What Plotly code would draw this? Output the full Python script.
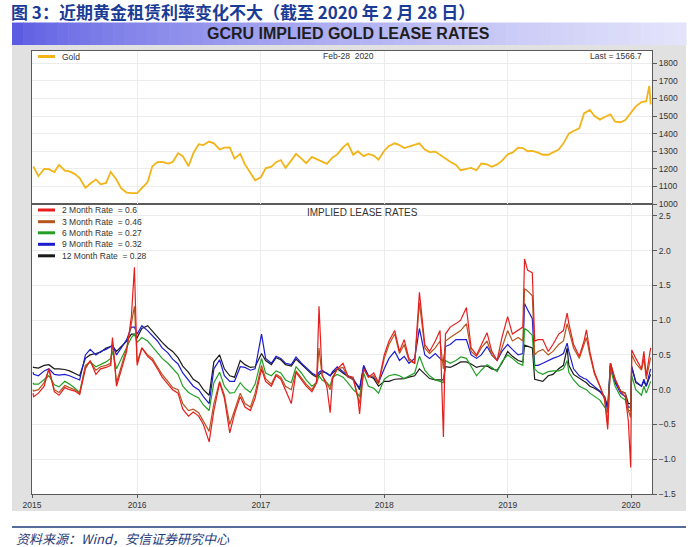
import plotly.graph_objects as go
import pandas as pd

# ---------------- data ----------------
TITLE = "图 3：近期黄金租赁利率变化不大（截至 2020 年 2 月 28 日）"
HEADER = "GCRU IMPLIED GOLD LEASE RATES"
SOURCE = "资料来源：Wind，安信证券研究中心"

gold_grid = [d.strftime('%Y-%m-%d') for d in pd.date_range('2015-03-01', '2020-02-15', freq='SMS')]
GOLD_DATES = ['2015-02-27'] + gold_grid + ['2020-02-24', '2020-02-28']
GOLD_PRICE = [1212,
    1210, 1158, 1200, 1198, 1182, 1222, 1190, 1185, 1170, 1148, 1092, 1115, 1140, 1112, 1120, 1182, 1138, 1088, 1065, 1062,
    1062, 1090, 1125, 1215, 1238, 1240, 1230, 1238, 1288, 1272, 1215, 1288, 1340, 1335, 1355, 1345, 1310, 1320, 1322, 1258, 1285, 1225, 1178, 1135,
    1152, 1203, 1212, 1238, 1250, 1205, 1248, 1285, 1258, 1232, 1268, 1255, 1238, 1228, 1265, 1282, 1322, 1345, 1280, 1300, 1272, 1285, 1275, 1252,
    1303, 1330, 1345, 1335, 1318, 1325, 1335, 1345, 1310, 1295, 1298, 1280, 1255, 1240, 1222, 1192, 1200, 1205, 1192, 1230, 1225, 1212, 1225, 1245,
    1282, 1292, 1320, 1318, 1300, 1302, 1292, 1280, 1280, 1295, 1310, 1345, 1400, 1415, 1430, 1515, 1535, 1500, 1480, 1495, 1510, 1468, 1465, 1478,
    1520, 1555, 1580, 1585,
    1672, 1566.7]
GOLD_LAST = 1566.7
AS_OF = "Feb-28  2020"

RATE_DATES = [
    '2015-02-27', '2015-03-01', '2015-03-15', '2015-04-01', '2015-04-15', '2015-05-01', '2015-05-15', '2015-06-01',
    '2015-06-15', '2015-07-01', '2015-07-15', '2015-08-01', '2015-08-15', '2015-09-01', '2015-09-15', '2015-10-01',
    '2015-10-15', '2015-10-20', '2015-11-01', '2015-11-15', '2015-12-01', '2015-12-15', '2015-12-24',
    '2016-01-01', '2016-01-15', '2016-02-01', '2016-02-15', '2016-03-01', '2016-03-15', '2016-04-01', '2016-04-15',
    '2016-05-01', '2016-05-15', '2016-06-01', '2016-06-15', '2016-07-01', '2016-07-15', '2016-08-01', '2016-08-15',
    '2016-09-01', '2016-09-15', '2016-10-01', '2016-10-15', '2016-11-01', '2016-11-15', '2016-12-01', '2016-12-15',
    '2017-01-03', '2017-01-15', '2017-02-01', '2017-02-15', '2017-03-01', '2017-03-15', '2017-04-01', '2017-04-15',
    '2017-05-01', '2017-05-15', '2017-06-01', '2017-06-15', '2017-06-22', '2017-07-01', '2017-07-15', '2017-07-25',
    '2017-08-01', '2017-08-15', '2017-09-01', '2017-09-15', '2017-10-01', '2017-10-15', '2017-10-20', '2017-11-01',
    '2017-11-15', '2017-12-01', '2017-12-15',
    '2018-01-01', '2018-01-15', '2018-02-01', '2018-02-15', '2018-03-01', '2018-03-15', '2018-04-01', '2018-04-15',
    '2018-05-01', '2018-05-15', '2018-06-01', '2018-06-15', '2018-06-25', '2018-07-01', '2018-07-15', '2018-08-01',
    '2018-08-15', '2018-09-01', '2018-09-15', '2018-10-01', '2018-10-15', '2018-11-01', '2018-11-15', '2018-12-01',
    '2018-12-15',
    '2019-01-01', '2019-01-15', '2019-02-01', '2019-02-15', '2019-02-20', '2019-03-01', '2019-03-15', '2019-03-22',
    '2019-04-01', '2019-04-15', '2019-05-01', '2019-05-15', '2019-06-01', '2019-06-15', '2019-06-26', '2019-07-01',
    '2019-07-15', '2019-08-01', '2019-08-15', '2019-08-22', '2019-09-01', '2019-09-15', '2019-10-01', '2019-10-15',
    '2019-10-24', '2019-11-01', '2019-11-15', '2019-12-01', '2019-12-15', '2019-12-24', '2019-12-31',
    '2020-01-03', '2020-01-15', '2020-02-01', '2020-02-08', '2020-02-15', '2020-02-28']

RATE_2M = [
    -0.05, -0.10, -0.05, 0.05, 0.30, -0.03, -0.08, 0.03, 0.00, -0.02, -0.07, 0.30, 0.42, 0.22, 0.30, 0.32, 0.35, 0.75, 0.05, 0.30, 0.55, 1.05, 1.76,
    0.35, 0.60, 0.48, 0.42, 0.30, 0.18, 0.08, 0.00, -0.05, -0.28, -0.38, -0.32, -0.38, -0.50, -0.75, -0.30, 0.10, -0.12, -0.62, -0.35, -0.10, -0.25, -0.30, -0.12,
    0.30, 0.12, 0.05, 0.20, 0.15, 0.00, -0.20, 0.25, 0.14, 0.05, -0.03, 0.10, 1.20, 0.22, 0.05, -0.33, 0.15, 0.30, 0.38, 0.20, 0.18, -0.12, -0.35, 0.30, 0.18, 0.24, 0.10,
    0.50, 0.70, 0.85, 0.55, 0.72, 0.45, 0.38, 1.40, 0.65, 0.55, 0.70, 0.85, -0.68, 0.80, 0.90, 0.95, 1.00, 1.18, 0.60, 0.50, 0.65, 0.82, 0.55, 0.42, 0.75,
    1.05, 0.80, 0.85, 0.90, 1.88, 1.72, 1.68, 0.70, 0.72, 0.72, 0.55, 0.65, 0.80, 0.85, 1.10, 0.95, 0.65, 0.48, 0.70, 0.86, 0.55, 0.25, 0.05, -0.15, -0.57, 0.38, 0.15, -0.02, -0.10, -0.45, -1.12,
    0.57, 0.45, 0.30, 0.55, 0.20, 0.60]
RATE_3M = [
    0.00, -0.02, 0.00, 0.10, 0.30, 0.00, -0.04, 0.06, 0.03, 0.00, -0.05, 0.35, 0.40, 0.28, 0.33, 0.35, 0.38, 0.70, 0.10, 0.35, 0.60, 0.95, 1.20,
    0.40, 0.60, 0.50, 0.45, 0.33, 0.22, 0.12, 0.03, 0.00, -0.20, -0.30, -0.28, -0.33, -0.45, -0.60, -0.20, 0.12, -0.08, -0.50, -0.30, -0.05, -0.20, -0.25, -0.05,
    0.35, 0.16, 0.08, 0.22, 0.18, 0.05, 0.00, 0.27, 0.16, 0.08, 0.00, 0.12, 0.60, 0.20, 0.10, 0.00, 0.18, 0.30, 0.32, 0.18, 0.15, -0.08, -0.20, 0.30, 0.18, 0.20, 0.08,
    0.45, 0.65, 0.80, 0.52, 0.65, 0.42, 0.38, 1.25, 0.60, 0.52, 0.60, 0.70, 0.30, 0.70, 0.75, 0.80, 0.85, 0.95, 0.55, 0.48, 0.60, 0.70, 0.50, 0.42, 0.60,
    0.85, 0.70, 0.75, 0.70, 1.45, 1.42, 1.35, 0.50, 0.55, 0.58, 0.50, 0.55, 0.65, 0.70, 0.95, 0.85, 0.60, 0.45, 0.65, 0.75, 0.50, 0.22, 0.05, -0.12, -0.50, 0.38, 0.15, -0.02, -0.05, -0.30, -0.40,
    0.50, 0.38, 0.28, 0.45, 0.15, 0.46]
RATE_6M = [
    0.10, 0.08, 0.08, 0.15, 0.20, 0.07, 0.04, 0.12, 0.08, 0.02, -0.04, 0.33, 0.40, 0.33, 0.36, 0.40, 0.45, 0.55, 0.30, 0.45, 0.60, 0.75, 0.80,
    0.68, 0.75, 0.70, 0.62, 0.53, 0.45, 0.38, 0.30, 0.22, 0.05, -0.04, -0.08, -0.12, -0.22, -0.30, 0.10, 0.25, 0.05, -0.05, -0.04, 0.10, 0.02, -0.04, 0.08,
    0.45, 0.24, 0.20, 0.27, 0.24, 0.14, 0.10, 0.33, 0.24, 0.14, 0.05, 0.10, 0.20, 0.14, 0.10, 0.05, 0.18, 0.22, 0.18, 0.10, 0.00, -0.06, -0.10, 0.24, 0.05, 0.02, -0.05,
    0.15, 0.20, 0.22, 0.20, 0.16, 0.20, 0.24, 0.48, 0.28, 0.20, 0.14, 0.12, 0.10, 0.42, 0.38, 0.42, 0.47, 0.45, 0.33, 0.20, 0.28, 0.36, 0.32, 0.26, 0.40,
    0.50, 0.45, 0.38, 0.35, 0.88, 0.85, 0.78, 0.30, 0.25, 0.22, 0.26, 0.27, 0.27, 0.30, 0.42, 0.25, 0.14, 0.05, 0.02, 0.00, -0.05, -0.10, -0.15, -0.25, -0.33, 0.30, 0.05, -0.10, -0.15, -0.30, -0.30,
    0.20, 0.00, -0.08, 0.05, -0.05, 0.12]
RATE_9M = [
    0.25, 0.22, 0.20, 0.27, 0.30, 0.22, 0.21, 0.22, 0.20, 0.17, 0.14, 0.50, 0.58, 0.50, 0.55, 0.58, 0.62, 0.65, 0.50, 0.60, 0.72, 0.90, 0.90,
    0.80, 0.92, 0.85, 0.78, 0.70, 0.60, 0.53, 0.44, 0.37, 0.24, 0.14, 0.05, 0.00, -0.10, -0.20, 0.30, 0.43, 0.20, 0.12, 0.12, 0.33, 0.32, 0.28, 0.30,
    0.80, 0.45, 0.38, 0.48, 0.45, 0.38, 0.36, 0.47, 0.38, 0.31, 0.24, 0.20, 0.25, 0.28, 0.24, 0.20, 0.26, 0.33, 0.26, 0.20, 0.14, 0.06, 0.02, 0.35, 0.20, 0.18, 0.10,
    0.30, 0.45, 0.55, 0.42, 0.48, 0.38, 0.45, 0.88, 0.50, 0.45, 0.52, 0.45, 0.40, 0.62, 0.65, 0.72, 0.72, 0.72, 0.50, 0.45, 0.50, 0.62, 0.50, 0.42, 0.55,
    0.65, 0.58, 0.50, 0.52, 1.24, 1.15, 1.02, 0.35, 0.35, 0.38, 0.42, 0.45, 0.48, 0.52, 0.67, 0.55, 0.30, 0.20, 0.16, 0.15, 0.10, 0.05, -0.02, -0.12, -0.30, 0.35, 0.10, -0.05, -0.10, -0.25, -0.25,
    0.33, 0.12, 0.05, 0.15, 0.05, 0.30]
RATE_12M = [
    0.33, 0.32, 0.31, 0.35, 0.36, 0.30, 0.30, 0.29, 0.27, 0.23, 0.20, 0.45, 0.50, 0.52, 0.54, 0.60, 0.62, 0.63, 0.55, 0.62, 0.70, 0.80, 0.80,
    0.75, 0.88, 0.92, 0.85, 0.76, 0.68, 0.60, 0.55, 0.46, 0.34, 0.25, 0.15, 0.10, 0.00, -0.08, 0.40, 0.50, 0.30, 0.20, 0.18, 0.42, 0.36, 0.32, 0.33,
    0.52, 0.42, 0.36, 0.46, 0.43, 0.36, 0.34, 0.44, 0.37, 0.30, 0.22, 0.18, 0.22, 0.26, 0.24, 0.20, 0.24, 0.30, 0.24, 0.19, 0.16, 0.05, 0.00, 0.33, 0.20, 0.16, 0.05,
    0.12, 0.12, 0.15, 0.15, 0.16, 0.18, 0.20, 0.30, 0.22, 0.16, 0.14, 0.14, 0.14, 0.33, 0.32, 0.36, 0.40, 0.40, 0.37, 0.32, 0.34, 0.34, 0.30, 0.28, 0.38,
    0.55, 0.48, 0.42, 0.40, 0.64, 0.62, 0.60, 0.15, 0.14, 0.12, 0.20, 0.22, 0.30, 0.35, 0.60, 0.35, 0.22, 0.16, 0.12, 0.10, 0.05, 0.02, -0.03, -0.10, -0.25, 0.38, 0.12, -0.02, -0.05, -0.20, -0.20,
    0.33, 0.10, 0.05, 0.12, 0.05, 0.22]

RATE_NAMES = ['2 Month Rate', '3 Month Rate', '6 Month Rate', '9 Month Rate', '12 Month Rate']
RATE_LAST = ['0.6', '0.46', '0.27', '0.32', '0.28']
RATE_SERIES = [RATE_2M, RATE_3M, RATE_6M, RATE_9M, RATE_12M]

X_TICK_VALS = ['2015-02-24', '2016-01-01', '2017-01-01', '2018-01-01', '2019-01-01', '2020-01-01']
X_TICK_TEXT = ['2015', '2016', '2017', '2018', '2019', '2020']
GOLD_TICKS = [1000, 1100, 1200, 1300, 1400, 1500, 1600, 1700, 1800]
RATE_TICKS = [-1.5, -1.0, -0.5, 0.0, 0.5, 1.0, 1.5, 2.0, 2.5]

for s in RATE_SERIES:
    assert len(s) == len(RATE_DATES), (len(s), len(RATE_DATES))
assert len(GOLD_PRICE) == len(GOLD_DATES), (len(GOLD_PRICE), len(GOLD_DATES))

# ---------------- styling ----------------
RATE_COLORS = ['#E61E1E', '#B5561F', '#22A026', '#1C1CD0', '#1A1A1A']
GOLD_COLOR = '#F2B419'
FONT = 'Liberation Sans, Arial, sans-serif'
CJK = 'Noto Sans CJK SC, sans-serif'
AXC = '#5a5a5a'
GRID = '#ececec'
TXT = '#333333'

W, H = 697, 547
L, R, T, B = 32, 652, 51, 494
SPLIT = 204


def px(x):
    return (x - L) / (R - L)


def py(y):
    return (B - y) / (B - T)


split = py(SPLIT)

fig = go.Figure()
for i in reversed(range(len(RATE_SERIES))):
    fig.add_trace(go.Scatter(x=RATE_DATES, y=RATE_SERIES[i], mode='lines', name=RATE_NAMES[i],
                             line=dict(color=RATE_COLORS[i], width=1.2), xaxis='x', yaxis='y',
                             hoverinfo='skip', showlegend=False))
fig.add_trace(go.Scatter(x=GOLD_DATES, y=GOLD_PRICE, mode='lines', name='Gold',
                         line=dict(color=GOLD_COLOR, width=1.8), xaxis='x2', yaxis='y2',
                         hoverinfo='skip', showlegend=False))

shapes = []
# grey chart panel
shapes.append(dict(type='rect', xref='paper', yref='paper', x0=px(12), x1=px(686), y0=py(511), y1=py(45),
                   fillcolor='#e1e1e1', line=dict(width=0), layer='below'))
# header gradient
left_c, right_c = (86, 86, 226), (228, 228, 251)
N = 60
x_start, x_end = 12, 686
step = (x_end - x_start) / N
for k in range(N):
    t = (k + 0.5) / N
    f = t ** 0.65
    c = tuple(int(round(a + (b - a) * f)) for a, b in zip(left_c, right_c))
    shapes.append(dict(type='rect', xref='paper', yref='paper',
                       x0=px(x_start + k * step), x1=px(x_start + (k + 1) * step + 0.6),
                       y0=py(45), y1=py(22.5), fillcolor='rgb(%d,%d,%d)' % c, line=dict(width=0), layer='below'))
# white plot area
shapes.append(dict(type='rect', xref='paper', yref='paper', x0=0, x1=1, y0=0, y1=1,
                   fillcolor='white', line=dict(width=0), layer='below'))
# footer rule
shapes.append(dict(type='line', xref='paper', yref='paper', x0=px(12), x1=px(686), y0=py(527), y1=py(527),
                   line=dict(color='#1F3A7A', width=1.5)))
# legend samples
shapes.append(dict(type='line', xref='paper', yref='paper', x0=px(38), x1=px(55), y0=py(56.5), y1=py(56.5),
                   line=dict(color=GOLD_COLOR, width=3)))
ROW_Y = [210, 221.7, 232.8, 244.3, 255.8]
for i, yy in enumerate(ROW_Y):
    shapes.append(dict(type='line', xref='paper', yref='paper', x0=px(38), x1=px(55), y0=py(yy), y1=py(yy),
                       line=dict(color=RATE_COLORS[i], width=3)))

ann = []
ann.append(dict(text='<b>' + TITLE + '</b>', x=px(9), y=py(11), xanchor='left', yanchor='middle',
                font=dict(family=CJK, size=17, color='#1B3C96')))
ann.append(dict(text='<b>' + HEADER + '</b>', x=px(349), y=py(34), xanchor='center', yanchor='middle',
                font=dict(family=FONT, size=16, color='#1e1e1e')))
ann.append(dict(text='Gold', x=px(60), y=py(56.5), xanchor='left', yanchor='middle',
                font=dict(family=FONT, size=8.5, color=TXT)))
ann.append(dict(text=AS_OF.replace('  ', '\u00a0 '), x=px(349), y=py(56), xanchor='center', yanchor='middle',
                font=dict(family=FONT, size=8.5, color=TXT)))
ann.append(dict(text='Last = %s' % GOLD_LAST, x=px(644), y=py(56), xanchor='right', yanchor='middle',
                font=dict(family=FONT, size=8.5, color=TXT)))
ann.append(dict(text='IMPLIED LEASE RATES', x=px(362), y=py(212), xanchor='center', yanchor='middle',
                font=dict(family=FONT, size=10, color=TXT)))
for i, yy in enumerate(ROW_Y):
    ann.append(dict(text='%s\u00a0 = %s' % (RATE_NAMES[i], RATE_LAST[i]), x=px(60), y=py(yy),
                    xanchor='left', yanchor='middle', font=dict(family=FONT, size=8.5, color=TXT)))
ann.append(dict(text='<i>' + SOURCE + '</i>', x=px(14), y=py(538), xanchor='left', yanchor='middle',
                font=dict(family=CJK, size=13, color='#1F3A7A')))
for a in ann:
    a.update(xref='paper', yref='paper', showarrow=False)

axis_common = dict(showline=True, linecolor=AXC, linewidth=1.3, mirror=True, showgrid=True,
                   gridcolor=GRID, gridwidth=1, zeroline=False,
                   tickfont=dict(family=FONT, size=8.5, color=TXT), tickcolor=AXC)

fig.update_layout(
    width=W, height=H, margin=dict(l=L, r=W - R, t=T, b=H - B, pad=0),
    paper_bgcolor='white', plot_bgcolor='white', showlegend=False,
    xaxis=dict(domain=[0, 1], anchor='y', type='date', range=['2015-02-24', '2020-03-03'],
               tickvals=X_TICK_VALS, ticktext=X_TICK_TEXT, ticks='outside', ticklen=3, **axis_common),
    xaxis2=dict(domain=[0, 1], anchor='y2', type='date', range=['2015-02-24', '2020-03-03'], matches='x',
                tickvals=X_TICK_VALS, showticklabels=False, ticks='', **axis_common),
    yaxis=dict(domain=[0, split], anchor='x', side='right', range=[-1.5, 2.67], tickvals=RATE_TICKS,
               tickformat='.1f', ticks='outside', ticklen=4, **axis_common),
    yaxis2=dict(domain=[split, 1], anchor='x2', side='right', range=[1000, 1870], tickvals=GOLD_TICKS,
                ticks='outside', ticklen=4, **axis_common),
    shapes=shapes, annotations=ann,
)

fig.write_html('out.html')
